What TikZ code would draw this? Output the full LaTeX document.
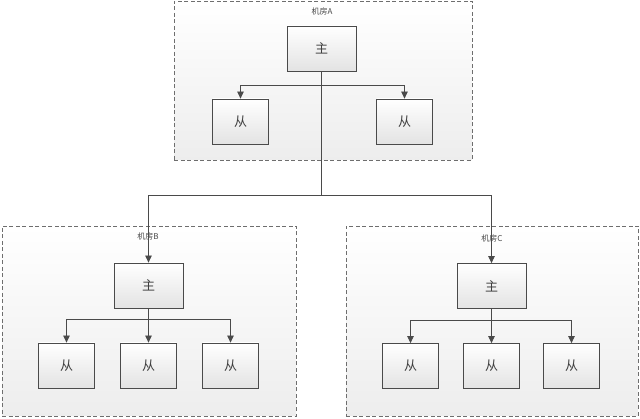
\documentclass[tikz,border=0pt]{standalone}
\usepackage{fontspec}
\newfontfamily\cjk{Noto Sans CJK SC}
\usetikzlibrary{arrows.meta}
\usetikzlibrary{positioning}
\usepackage{xcolor}
\definecolor{edgegray}{HTML}{4A4A4A}
\definecolor{roomgray}{HTML}{6E6E6E}
\tikzset{
  room/.style={draw=roomgray, dashed, dash pattern=on 4pt off 2.5pt, line width=0.9pt,
    top color=white, bottom color=black!7, inner sep=0pt},
  roomlabel/.style={font=\cjk\fontsize{8}{8}\selectfont, text=edgegray, inner sep=0pt},
  host/.style={draw=edgegray, line width=0.8pt, top color=white, bottom color=black!11,
    minimum height=45pt, inner sep=0pt, font=\cjk\fontsize{13}{13}\selectfont, text=black!75},
  master/.style={host, minimum width=69pt},
  slave/.style={host, minimum width=56pt},
  link/.style={draw=edgegray, line width=0.8pt, -{Triangle[length=7pt,width=6.5pt]}}
}

\begin{document}
\begin{tikzpicture}[x=1pt,y=-1pt]
\useasboundingbox (0,0) rectangle (640,419);
% rooms
\node[room, minimum width=298pt, minimum height=159pt] (roomA) at (323,80.5) {};
\node[room, minimum width=294pt, minimum height=190pt] (roomB) at (149,321) {};
\node[room, minimum width=292pt, minimum height=190pt] (roomC) at (492,321) {};
\node[roomlabel] (labA) at (322,11) {机房A};
\node[roomlabel] (labB) at (148,236) {机房B};
\node[roomlabel] (labC) at (492,238) {机房C};
% room A
\node[master] (mA) at (321.5,48.5) {主};
\node[slave] (sA1) at (240.5,121.5) {从};
\node[slave] (sA2) at (404.5,121.5) {从};
% room B
\node[master] (mB) at (148.5,285.5) {主};
\node[slave] (sB1) at (66.5,365.5) {从};
\node[slave] (sB2) at (148.5,365.5) {从};
\node[slave] (sB3) at (230.5,365.5) {从};
% room C
\node[master] (mC) at (491.5,286) {主};
\node[slave] (sC1) at (410.5,366) {从};
\node[slave] (sC2) at (491.5,366) {从};
\node[slave] (sC3) at (571.5,366) {从};
% links
\draw[link] (mA.south) -- ++(0,14) -| (sA1.north);
\draw[link] (mA.south) -- ++(0,14) -| (sA2.north);
\draw[link] (mA.south) -- ++(0,124) -| (mB.north);
\draw[link] (mA.south) -- ++(0,124) -| (mC.north);
\foreach \s in {sB1,sB2,sB3}
  \draw[link] (mB.south) -- ++(0,11) -| (\s.north);
\foreach \s in {sC1,sC2,sC3}
  \draw[link] (mC.south) -- ++(0,12) -| (\s.north);
\end{tikzpicture}
\end{document}
